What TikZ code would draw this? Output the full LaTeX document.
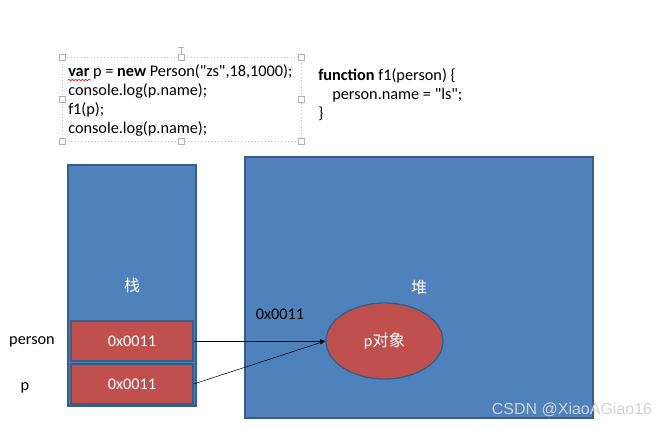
\documentclass[tikz,border=0pt]{standalone}
\usepackage{fontspec}
\setmainfont{Carlito}[Ligatures=TeXOff]
\newfontfamily\cjk{Noto Sans CJK SC}
\newfontfamily\wmfont{Liberation Sans}
\usetikzlibrary{shapes.geometric,arrows.meta,decorations.pathmorphing}
\definecolor{boxblue}{HTML}{4F81BD}
\definecolor{edgeblue}{HTML}{385D8A}
\definecolor{boxred}{HTML}{C0504D}
\begin{document}
\begin{tikzpicture}[x=0.75pt,y=-0.75pt,font=\fontsize{12.2}{14}\selectfont,
  area/.style={draw=edgeblue,fill=boxblue,line width=1pt,text=white,font=\cjk\fontsize{12}{14}\selectfont},
  cell/.style={draw=edgeblue,fill=boxred,line width=1pt,text=white,minimum width=91.5pt,minimum height=30pt},
  handle/.style={draw=gray!60,fill=white,line width=0.4pt,minimum size=4.5pt,inner sep=0pt},
  code/.style={anchor=base west,inner sep=0pt}]
\useasboundingbox (0,0) rectangle (666,428);
% code box with its handles
\draw [gray!50,dotted,line width=0.5pt] (62,57) rectangle (301,141);
\draw [gray!60,line width=0.5pt] (178,47) -- (184,47) (181,47) -- (181,57);
\foreach \hx/\hy in {62/57,181/57,301/57,62/99,301/99,62/141,181/141,301/141}
  \node [handle] at (\hx,\hy) {};
\node [code] (line1) at (68,76) {\textbf{var} p = \textbf{new} Person("zs",18,1000);};
\node [code] (line2) at (68,95) {console.log(p.name);};
\node [code] (line3) at (68,114) {f1(p);};
\node [code] (line4) at (68,133) {console.log(p.name);};
\draw [red,line width=0.5pt,decorate,decoration={snake,amplitude=0.5pt,segment length=2.5pt}] (68,80) -- (91,80);
\node [code] (fun1) at (318,80) {\textbf{function} f1(person) \{};
\node [code] (fun2) at (332,99) {person.name = "ls";};
\node [code] (fun3) at (318,118) {\}};
% stack and heap
\node [area,minimum width=96pt,minimum height=180.75pt] (stack) at (132,285.5) {栈};
\node [area,minimum width=261pt,minimum height=195.75pt] (heap) at (419,287.5) {堆};
\node [cell] (cellperson) at (132,341) {0x0011};
\node [cell] (cellp) at (132,384) {0x0011};
\node [anchor=base] (person) at (32,344) {person};
\node [anchor=base] (p) at (25,390) {p};
\node (addr) at (280,314) {0x0011};
\node [ellipse,draw=edgeblue,fill=boxred,line width=1pt,text=white,minimum width=87.75pt,minimum height=57pt,inner sep=0pt] (obj) at (384.5,341) {p{\cjk 对象}};
\draw [-{Latex[length=4pt,width=3pt]},line width=0.4pt] (cellperson.east) -- (obj.west);
\draw [-{Latex[length=4pt,width=3pt]},line width=0.4pt] (cellp.east) -- (obj.west);
\node [text=gray!35,font=\wmfont\fontsize{12}{14}\selectfont] (mark) at (572,410) {CSDN @XiaoAGiao16};
\end{tikzpicture}
\end{document}
